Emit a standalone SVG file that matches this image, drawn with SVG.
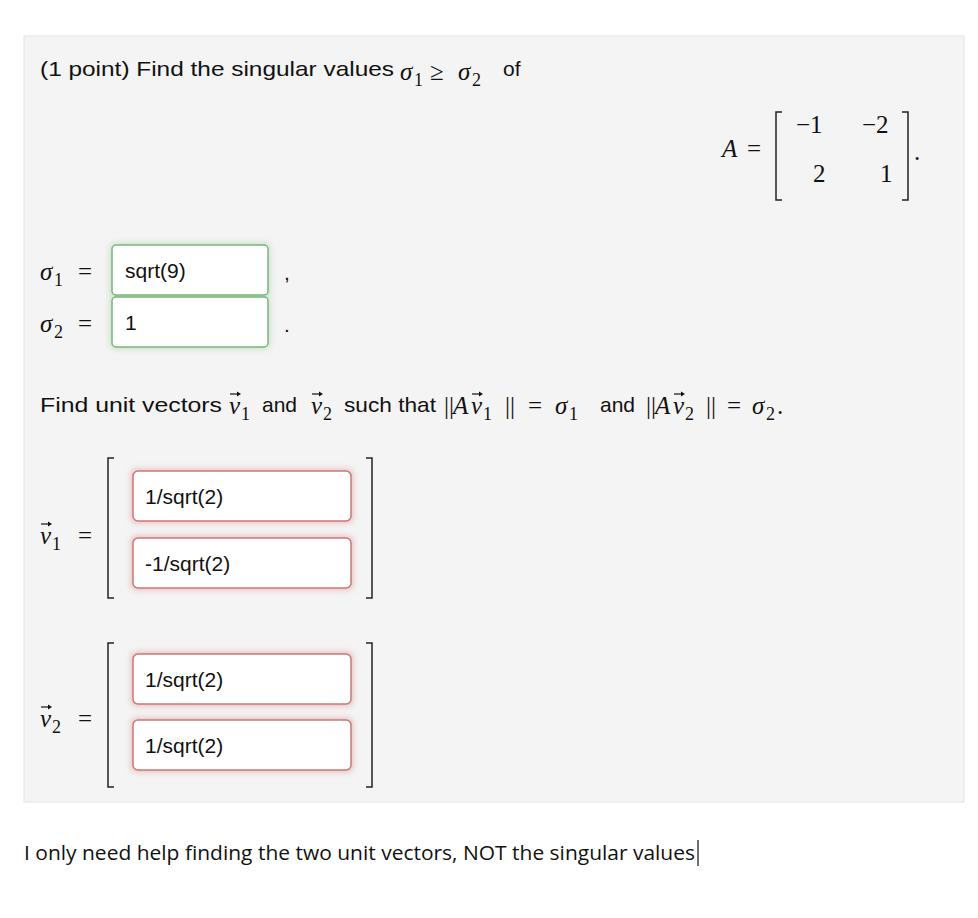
<svg xmlns="http://www.w3.org/2000/svg" width="978" height="918" viewBox="0 0 978 918">
<defs>
<style>
.t{font-family:"Liberation Sans",Arial,sans-serif;font-size:21px;fill:#111}
.m{font-family:"Liberation Serif","Times New Roman",serif;font-size:25px;fill:#111}
.i{font-style:italic}
.s{font-family:"Liberation Serif","Times New Roman",serif;font-size:18px;fill:#111}
.g{fill:#fff;stroke:#78b878;stroke-width:1.5}
.r{fill:#fff;stroke:#cc7777;stroke-width:1.5}
.br{fill:none;stroke:#222;stroke-width:1.5}
</style>
<g id="arr"><path d="M0,0 h9" stroke="#111" stroke-width="1.2"/><path d="M7,-2.5 L11,0 L7,2.5 Z" fill="#111"/></g>
<filter id="gl" x="-10%" y="-30%" width="120%" height="160%"><feGaussianBlur stdDeviation="3"/></filter>
</defs>
<rect width="978" height="918" fill="#fff"/>
<rect x="24" y="36" width="940" height="766" fill="#f4f4f4" stroke="#e4e4e4"/>
<g id="title">
<text class="t" x="40" y="76" textLength="354" lengthAdjust="spacingAndGlyphs">(1 point) Find the singular values</text>
<text class="m i" x="400" y="80">σ</text><text class="s" x="414" y="86">1</text>
<text class="m" x="430" y="80">≥</text>
<text class="m i" x="458" y="80">σ</text><text class="s" x="472" y="86">2</text>
<text class="t" x="503" y="76">of</text>
</g>
<g id="matrix">
<text class="m i" x="722" y="157">A</text><text class="m" x="747" y="157">=</text>
<path class="br" d="M782,112 h-6 v88 h6 M902,112 h6 v88 h-6"/>
<text class="m" x="796" y="133">−1</text><text class="m" x="862" y="133">−2</text>
<text class="m" x="813" y="182">2</text><text class="m" x="880" y="182">1</text>
<text class="m" x="914" y="160">.</text>
</g>
<g id="sigma">
<text class="m i" x="40" y="280">σ</text><text class="s" x="54" y="286">1</text><text class="m" x="78" y="280">=</text>
<text class="m i" x="40" y="332">σ</text><text class="s" x="54" y="338">2</text><text class="m" x="78" y="332">=</text>
<rect x="110" y="243" width="160" height="54" rx="5" fill="#9c9" opacity="0.5" filter="url(#gl)"/>
<rect x="110" y="295" width="160" height="54" rx="5" fill="#9c9" opacity="0.5" filter="url(#gl)"/>
<rect class="g" x="112" y="245" width="156" height="50" rx="4"/>
<rect class="g" x="112" y="297" width="156" height="50" rx="4"/>
<text class="t" x="125" y="278">sqrt(9)</text>
<text class="t" x="125" y="330">1</text>
<text class="t" x="284" y="280">,</text>
<text class="t" x="284" y="332">.</text>
</g>
<g id="find">
<text class="t" x="40" y="412" textLength="182" lengthAdjust="spacingAndGlyphs">Find unit vectors</text>
<text class="m i" x="229" y="414">v</text><use href="#arr" x="230" y="394"/><text class="s" x="241" y="420">1</text>
<text class="t" x="262" y="412">and</text>
<text class="m i" x="311" y="414">v</text><use href="#arr" x="312" y="394"/><text class="s" x="323" y="420">2</text>
<text class="t" x="344" y="412" textLength="92" lengthAdjust="spacingAndGlyphs">such that</text>
<text class="m" x="444" y="414">||</text><text class="m i" x="453" y="414">A</text><text class="m i" x="471" y="414">v</text><use href="#arr" x="472" y="394"/><text class="s" x="483" y="420">1</text><text class="m" x="505" y="414">||</text>
<text class="m" x="528" y="414">=</text><text class="m i" x="555" y="414">σ</text><text class="s" x="569" y="420">1</text>
<text class="t" x="600" y="412">and</text>
<text class="m" x="646" y="414">||</text><text class="m i" x="655" y="414">A</text><text class="m i" x="673" y="414">v</text><use href="#arr" x="674" y="394"/><text class="s" x="685" y="420">2</text><text class="m" x="706" y="414">||</text>
<text class="m" x="727" y="414">=</text><text class="m i" x="752" y="414">σ</text><text class="s" x="766" y="420">2</text><text class="m" x="777" y="414">.</text>
</g>
<g id="v1">
<text class="m i" x="40" y="544">v</text><use href="#arr" x="41" y="524"/><text class="s" x="52" y="550">1</text><text class="m" x="78" y="544">=</text>
<path class="br" d="M114,458 h-6 v140 h6 M366,458 h6 v140 h-6"/>
<rect x="131" y="469" width="222" height="54" rx="5" fill="#d88" opacity="0.5" filter="url(#gl)"/>
<rect x="131" y="536" width="222" height="54" rx="5" fill="#d88" opacity="0.5" filter="url(#gl)"/>
<rect class="r" x="133" y="471" width="218" height="50" rx="5"/>
<rect class="r" x="133" y="538" width="218" height="50" rx="5"/>
<text class="t" x="145" y="504">1/sqrt(2)</text>
<text class="t" x="145" y="571">-1/sqrt(2)</text>
</g>
<g id="v2">
<text class="m i" x="40" y="727">v</text><use href="#arr" x="41" y="707"/><text class="s" x="52" y="733">2</text><text class="m" x="78" y="727">=</text>
<path class="br" d="M114,643 h-6 v144 h6 M366,643 h6 v144 h-6"/>
<rect x="131" y="652" width="222" height="54" rx="5" fill="#d88" opacity="0.5" filter="url(#gl)"/>
<rect x="131" y="718" width="222" height="54" rx="5" fill="#d88" opacity="0.5" filter="url(#gl)"/>
<rect class="r" x="133" y="654" width="218" height="50" rx="5"/>
<rect class="r" x="133" y="720" width="218" height="50" rx="5"/>
<text class="t" x="145" y="687">1/sqrt(2)</text>
<text class="t" x="145" y="753">1/sqrt(2)</text>
</g>
<text x="24" y="860" textLength="671" lengthAdjust="spacingAndGlyphs" style="font-family:'Open Sans','Noto Sans',sans-serif;font-size:20px;fill:#111">I only need help finding the two unit vectors, NOT the singular values</text>
<line x1="698" y1="840" x2="698" y2="866" stroke="#111" stroke-width="1.2"/>
</svg>
